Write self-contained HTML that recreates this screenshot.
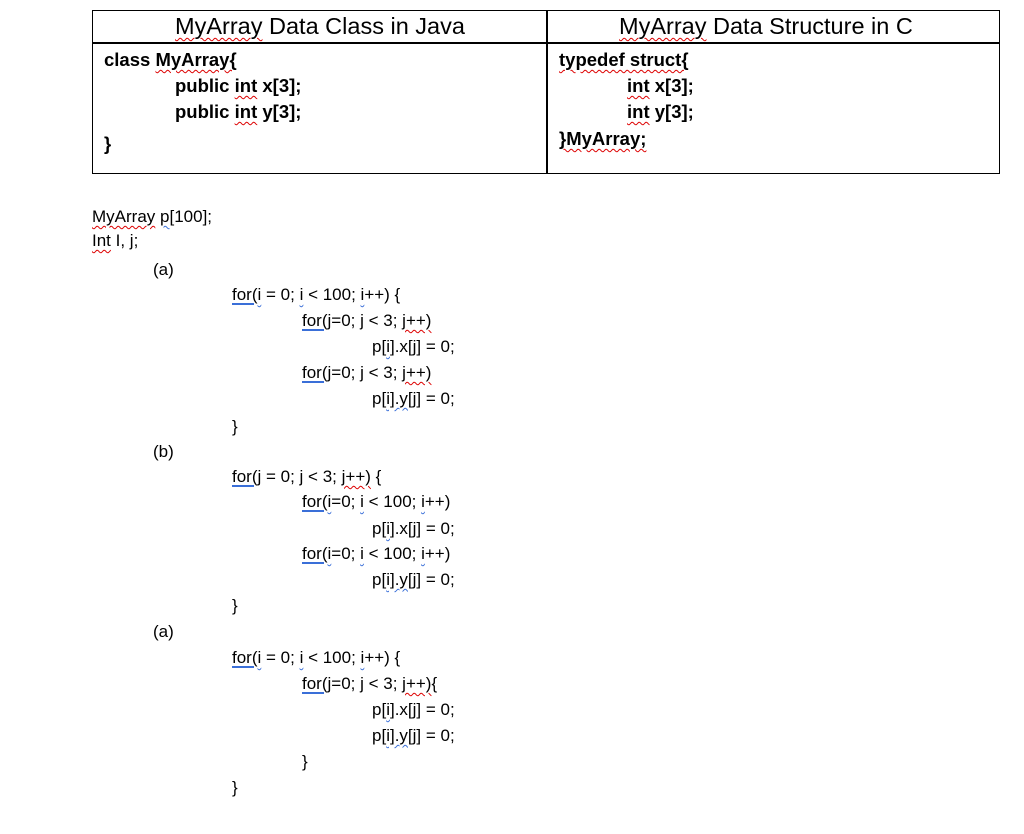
<!DOCTYPE html>
<html><head><meta charset="utf-8"><style>
body{margin:0;background:#fff;width:1024px;height:834px;position:relative;overflow:hidden;font-family:"Liberation Sans",sans-serif;color:#000}
.t{position:absolute;white-space:nowrap;font-size:17px;line-height:20px;margin-top:2px}
.b{font-weight:bold;font-size:18.5px}
.h{font-size:23.5px;margin-top:0}
.r{text-decoration:underline wavy #d00;text-decoration-thickness:1px;text-underline-offset:3px}
.u{text-decoration:underline wavy #3a6fd8;text-decoration-thickness:1px;text-underline-offset:3px}
.bl{text-decoration:underline solid #3a6fd8;text-decoration-thickness:2px;text-underline-offset:3px}
</style></head><body>
<div style="position:absolute;left:92px;top:10px;width:906px;height:162px;border:1.5px solid #000"></div>
<div style="position:absolute;left:546px;top:10px;width:1.5px;height:164px;background:#000"></div>
<div style="position:absolute;left:92px;top:42px;width:908px;height:1.5px;background:#000"></div>
<div class="t h" style="left:175px;top:16px"><span class="r">MyArray</span> Data Class in Java</div>
<div class="t h" style="left:619px;top:16px"><span class="r">MyArray</span> Data Structure in C</div>
<div class="t b" style="left:104px;top:48px">class <span class="r">MyArray{</span></div>
<div class="t b" style="left:175px;top:74px">public <span class="r">int</span> x[3];</div>
<div class="t b" style="left:175px;top:100px">public <span class="r">int</span> y[3];</div>
<div class="t b" style="left:104px;top:132px">}</div>
<div class="t b" style="left:559px;top:48px"><span class="r">typedef struct{</span></div>
<div class="t b" style="left:627px;top:74px"><span class="r">int</span> x[3];</div>
<div class="t b" style="left:627px;top:100px"><span class="r">int</span> y[3];</div>
<div class="t b" style="left:559px;top:127px"><span class="r">}MyArray;</span></div>

<div class="t" style="left:92px;top:205px"><span class="r">MyArray</span> <span class="u">p</span>[100];</div>
<div class="t" style="left:92px;top:229px"><span class="r">Int</span> I, j;</div>

<div class="t" style="left:153px;top:258px">(a)</div>
<div class="t" style="left:232px;top:283px"><span class="bl">for(</span><span class="u">i</span> = 0; <span class="u">i</span> &lt; 100; <span class="u">i</span>++) {</div>
<div class="t" style="left:302px;top:309px"><span class="bl">for(</span>j=0; j &lt; 3; <span class="r">j++)</span></div>
<div class="t" style="left:372px;top:335px">p[<span class="u">i</span>].x[j] = 0;</div>
<div class="t" style="left:302px;top:361px"><span class="bl">for(</span>j=0; j &lt; 3; <span class="r">j++)</span></div>
<div class="t" style="left:372px;top:387px">p[<span class="u">i].y</span>[j] = 0;</div>
<div class="t" style="left:232px;top:415px">}</div>

<div class="t" style="left:153px;top:440px">(b)</div>
<div class="t" style="left:232px;top:465px"><span class="bl">for(</span>j = 0; j &lt; 3; <span class="r">j++)</span> {</div>
<div class="t" style="left:302px;top:490px"><span class="bl">for(</span><span class="u">i</span>=0; <span class="u">i</span> &lt; 100; <span class="u">i</span>++)</div>
<div class="t" style="left:372px;top:517px">p[<span class="u">i</span>].x[j] = 0;</div>
<div class="t" style="left:302px;top:542px"><span class="bl">for(</span><span class="u">i</span>=0; <span class="u">i</span> &lt; 100; <span class="u">i</span>++)</div>
<div class="t" style="left:372px;top:568px">p[<span class="u">i].y</span>[j] = 0;</div>
<div class="t" style="left:232px;top:594px">}</div>

<div class="t" style="left:153px;top:620px">(a)</div>
<div class="t" style="left:232px;top:646px"><span class="bl">for(</span><span class="u">i</span> = 0; <span class="u">i</span> &lt; 100; <span class="u">i</span>++) {</div>
<div class="t" style="left:302px;top:672px"><span class="bl">for(</span>j=0; j &lt; 3; <span class="r">j++)</span>{</div>
<div class="t" style="left:372px;top:698px">p[<span class="u">i</span>].x[j] = 0;</div>
<div class="t" style="left:372px;top:724px">p[<span class="u">i].y</span>[j] = 0;</div>
<div class="t" style="left:302px;top:750px">}</div>
<div class="t" style="left:232px;top:776px">}</div>
</body></html>
